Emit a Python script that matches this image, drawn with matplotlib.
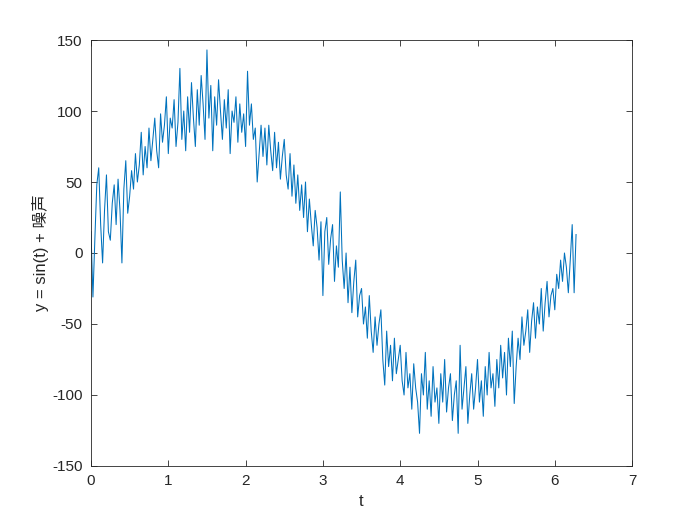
import numpy as np
import matplotlib
matplotlib.use("Agg")
import matplotlib.pyplot as plt

plt.rcParams['font.family'] = ['Liberation Sans', 'Noto Sans CJK SC', 'DejaVu Sans']
plt.rcParams['axes.unicode_minus'] = False

t_step = 0.025
y_values = [
    15, -31, 10, 48, 60, 20, -7, 30, 55, 15,
    9, 35, 48, 20, 52, 30, -7, 45, 65, 28,
    40, 58, 45, 70, 50, 62, 85, 55, 75, 60,
    88, 65, 80, 95, 72, 60, 98, 78, 90, 110,
    70, 95, 88, 108, 75, 92, 130, 80, 100, 72,
    110, 85, 120, 95, 75, 115, 90, 125, 105, 80,
    143, 95, 118, 72, 110, 90, 122, 100, 80, 108,
    88, 115, 70, 100, 92, 110, 78, 105, 85, 98,
    75, 128, 90, 105, 80, 88, 50, 70, 90, 68,
    88, 62, 90, 72, 58, 85, 60, 78, 52, 68,
    80, 55, 45, 70, 40, 62, 35, 55, 30, 48,
    25, 50, 15, 38, 20, 5, 30, 18, -5, 22,
    -30, 15, 25, -8, 10, 20, -20, 5, -10, 43,
    -5, -25, 0, -35, -10, -42, -20, -5, -45, -30,
    -25, -50, -38, -60, -30, -55, -70, -45, -65, -50,
    -40, -75, -93, -55, -80, -65, -90, -60, -85, -75,
    -65, -90, -100, -70, -95, -85, -110, -78, -95, -105,
    -127, -85, -100, -70, -110, -90, -115, -80, -105, -95,
    -120, -85, -105, -75, -112, -95, -85, -118, -100, -90,
    -127, -65, -110, -95, -80, -120, -100, -85, -110, -95,
    -75, -105, -90, -115, -80, -100, -70, -95, -85, -108,
    -75, -95, -65, -88, -70, -100, -60, -80, -55, -106,
    -80, -60, -75, -45, -65, -55, -40, -70, -48, -35,
    -60, -38, -50, -25, -55, -35, -20, -45, -30, -25,
    -40, -15, -25, -5, -20, 0, -10, -28, -5, 20, -28,
    13,
]
t_values = np.arange(len(y_values)) * t_step

x_ticks = [0, 1, 2, 3, 4, 5, 6, 7]
y_ticks = [-150, -100, -50, 0, 50, 100, 150]

fig = plt.figure(figsize=(7, 5.25), dpi=100)
ax = fig.add_axes([0.13, 0.1124, 0.773, 0.8114])
ax.plot(t_values, y_values, color='#0072BD', linewidth=0.75)
ax.set_xlim(0, 7)
ax.set_ylim(-150, 150)
ax.set_xticks(x_ticks)
ax.set_yticks(y_ticks)
axc = '#262626'
for s in ax.spines.values():
    s.set_color(axc)
    s.set_linewidth(0.6)
ax.tick_params(direction='in', length=4, width=0.6, colors=axc, labelsize=11,
               top=True, right=True, pad=6)
ax.set_xlabel('t', fontsize=12, color=axc, labelpad=4)
ax.set_ylabel('y = sin(t) + 噪声', fontsize=12, color=axc, labelpad=2)
fig.savefig('out.png', dpi=100, facecolor='white')
